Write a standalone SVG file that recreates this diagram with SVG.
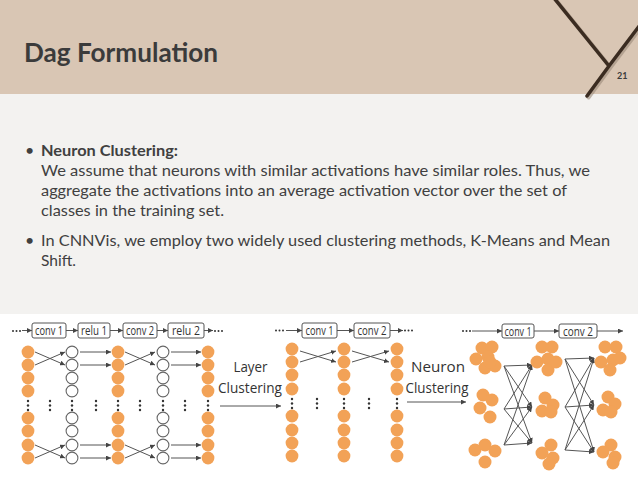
<svg xmlns="http://www.w3.org/2000/svg" xmlns:xlink="http://www.w3.org/1999/xlink" width="638" height="478" viewBox="0 0 638 478">
<style>
.o{fill:#f2a257}
.w{fill:#fff;stroke:#666;stroke-width:1.1}
.dt{fill:#333}
.ln{stroke:#555;stroke-width:1;fill:none}
.box{fill:#fff;stroke:#555;stroke-width:1}
.bt{font-family:"Open Sans","Noto Sans",sans-serif;font-size:12.5px;fill:#333}
.lb{font-family:"Open Sans","Noto Sans",sans-serif;font-size:15px;fill:#333}
.body{font-family:Lato,"Open Sans",sans-serif;font-size:16px;fill:#404040}
</style>
<defs>
<marker id="ah" viewBox="0 0 6 6" markerWidth="5" markerHeight="5" refX="6" refY="3" orient="auto" markerUnits="userSpaceOnUse"><path d="M0,0 L6,3 L0,6 z" fill="#444"/></marker>
<g id="vd"><circle cx="0" cy="0" r="1.2"/><circle cx="0" cy="4.5" r="1.2"/><circle cx="0" cy="9" r="1.2"/></g>
<g id="hd"><circle cx="0" cy="0" r="1"/><circle cx="3.5" cy="0" r="1"/><circle cx="7" cy="0" r="1"/></g>
</defs>

<!-- background -->
<rect x="0" y="0" width="638" height="478" fill="#f3f2f0"/>
<rect x="0" y="0" width="638" height="94" fill="#d9c6b4"/>
<rect x="0" y="314" width="638" height="164" fill="#ffffff"/>

<!-- header decoration -->
<g id="decoration" fill="none" stroke-linecap="round">
<path d="M554,-2 L609,66 L640,25 M609,66 L587,96" stroke="#9b8a7a" stroke-width="4" transform="translate(1.5,1.5)" opacity="0.6"/>
<path d="M554,-2 L609,66 L640,25 M609,66 L587,96" stroke="#3b2c21" stroke-width="3.5"/>
</g>
<text x="24" y="62" font-family="Lato,'Open Sans',sans-serif" font-weight="700" font-size="27" fill="#3b3b3b" textLength="194" lengthAdjust="spacingAndGlyphs">Dag Formulation</text>
<text x="617" y="79" font-family="Lato,'Open Sans',sans-serif" font-weight="700" font-size="9" fill="#3b3b3b">21</text>

<!-- body text -->
<g id="bullets" class="body">
<text x="25" y="156">•</text>
<text x="41" y="156" font-weight="700" textLength="137" lengthAdjust="spacingAndGlyphs">Neuron Clustering:</text>
<text x="41" y="176" textLength="549" lengthAdjust="spacingAndGlyphs">We assume that neurons with similar activations have similar roles. Thus, we</text>
<text x="41" y="196" textLength="526" lengthAdjust="spacingAndGlyphs">aggregate the activations into an average activation vector over the set of</text>
<text x="41" y="216" textLength="183" lengthAdjust="spacingAndGlyphs">classes in the training set.</text>
<text x="25" y="246">•</text>
<text x="41" y="246" textLength="569" lengthAdjust="spacingAndGlyphs">In CNNVis, we employ two widely used clustering methods, K-Means and Mean</text>
<text x="41" y="266" textLength="35" lengthAdjust="spacingAndGlyphs">Shift.</text>
</g>

<!-- connectors -->
<g id="connectors" class="ln">
<!-- left top row -->
<line x1="22" y1="330.5" x2="32" y2="330.5" marker-end="url(#ah)"/>
<line x1="66" y1="330.5" x2="78" y2="330.5" marker-end="url(#ah)"/>
<line x1="110" y1="330.5" x2="123" y2="330.5" marker-end="url(#ah)"/>
<line x1="157" y1="330.5" x2="168" y2="330.5" marker-end="url(#ah)"/>
<line x1="204" y1="330.5" x2="213" y2="330.5" marker-end="url(#ah)"/>
<!-- left crosses 1 -->
<line x1="35" y1="352" x2="65" y2="365" marker-end="url(#ah)"/>
<line x1="35" y1="365" x2="65" y2="352" marker-end="url(#ah)"/>
<line x1="35" y1="445" x2="65" y2="458" marker-end="url(#ah)"/>
<line x1="35" y1="458" x2="65" y2="445" marker-end="url(#ah)"/>
<line x1="80" y1="352" x2="111" y2="352" marker-end="url(#ah)"/>
<line x1="80" y1="365" x2="111" y2="365" marker-end="url(#ah)"/>
<line x1="80" y1="445" x2="111" y2="445" marker-end="url(#ah)"/>
<line x1="80" y1="458" x2="111" y2="458" marker-end="url(#ah)"/>
<!-- left crosses 2 -->
<line x1="125" y1="352" x2="155" y2="365" marker-end="url(#ah)"/>
<line x1="125" y1="365" x2="155" y2="352" marker-end="url(#ah)"/>
<line x1="125" y1="445" x2="155" y2="458" marker-end="url(#ah)"/>
<line x1="125" y1="458" x2="155" y2="445" marker-end="url(#ah)"/>
<line x1="171" y1="352" x2="201" y2="352" marker-end="url(#ah)"/>
<line x1="171" y1="365" x2="201" y2="365" marker-end="url(#ah)"/>
<line x1="171" y1="445" x2="201" y2="445" marker-end="url(#ah)"/>
<line x1="171" y1="458" x2="201" y2="458" marker-end="url(#ah)"/>
<!-- layer clustering arrow -->
<line x1="220" y1="406" x2="281" y2="406" marker-end="url(#ah)"/>
<!-- middle top row -->
<line x1="286" y1="330.5" x2="302" y2="330.5" marker-end="url(#ah)"/>
<line x1="337" y1="330.5" x2="354" y2="330.5" marker-end="url(#ah)"/>
<line x1="390" y1="330.5" x2="403" y2="330.5" marker-end="url(#ah)"/>
<!-- middle crosses -->
<line x1="300" y1="351" x2="336" y2="362" marker-end="url(#ah)"/>
<line x1="300" y1="362" x2="336" y2="351" marker-end="url(#ah)"/>
<line x1="352" y1="351" x2="389" y2="362" marker-end="url(#ah)"/>
<line x1="352" y1="362" x2="389" y2="351" marker-end="url(#ah)"/>
<!-- neuron clustering arrow -->
<line x1="407" y1="402" x2="466" y2="402" marker-end="url(#ah)"/>
<!-- right top row -->
<line x1="472" y1="331" x2="502" y2="331" marker-end="url(#ah)"/>
<line x1="534" y1="331" x2="559" y2="331" marker-end="url(#ah)"/>
<line x1="597" y1="331" x2="623" y2="331" marker-end="url(#ah)"/>
<!-- bipartite set 1 -->
<line x1="504" y1="366" x2="532" y2="365" marker-end="url(#ah)"/>
<line x1="504" y1="366" x2="532" y2="407" marker-end="url(#ah)"/>
<line x1="504" y1="366" x2="532" y2="443" marker-end="url(#ah)"/>
<line x1="504" y1="409" x2="532" y2="365" marker-end="url(#ah)"/>
<line x1="504" y1="409" x2="532" y2="407" marker-end="url(#ah)"/>
<line x1="504" y1="409" x2="532" y2="443" marker-end="url(#ah)"/>
<line x1="504" y1="445" x2="532" y2="365" marker-end="url(#ah)"/>
<line x1="504" y1="445" x2="532" y2="407" marker-end="url(#ah)"/>
<line x1="504" y1="445" x2="532" y2="443" marker-end="url(#ah)"/>
<!-- bipartite set 2 -->
<line x1="565" y1="359" x2="594" y2="358" marker-end="url(#ah)"/>
<line x1="565" y1="359" x2="594" y2="405" marker-end="url(#ah)"/>
<line x1="565" y1="359" x2="594" y2="452" marker-end="url(#ah)"/>
<line x1="565" y1="407" x2="594" y2="358" marker-end="url(#ah)"/>
<line x1="565" y1="407" x2="594" y2="405" marker-end="url(#ah)"/>
<line x1="565" y1="407" x2="594" y2="452" marker-end="url(#ah)"/>
<line x1="565" y1="450" x2="594" y2="358" marker-end="url(#ah)"/>
<line x1="565" y1="450" x2="594" y2="405" marker-end="url(#ah)"/>
<line x1="565" y1="450" x2="594" y2="452" marker-end="url(#ah)"/>
</g>

<!-- ellipsis dots -->
<g id="ellipses" class="dt">
<use xlink:href="#hd" x="13" y="331"/>
<use xlink:href="#hd" x="215" y="331"/>
<use xlink:href="#hd" x="276" y="330.5"/>
<use xlink:href="#hd" x="405" y="330.5"/>
<use xlink:href="#hd" x="463" y="331"/>
</g>

<!-- left section -->
<g id="box-conv1-a"><rect class="box" x="32" y="323" width="34" height="15" rx="2"/><text class="bt" x="49" y="335" text-anchor="middle" textLength="28" lengthAdjust="spacingAndGlyphs">conv 1</text></g>
<g id="box-relu1-a"><rect class="box" x="78" y="323" width="32" height="15" rx="2"/><text class="bt" x="94" y="335" text-anchor="middle" textLength="26" lengthAdjust="spacingAndGlyphs">relu 1</text></g>
<g id="box-conv2-a"><rect class="box" x="123" y="323" width="34" height="15" rx="2"/><text class="bt" x="140" y="335" text-anchor="middle" textLength="28" lengthAdjust="spacingAndGlyphs">conv 2</text></g>
<g id="box-relu2-a"><rect class="box" x="168" y="323" width="36" height="15" rx="2"/><text class="bt" x="186" y="335" text-anchor="middle" textLength="28" lengthAdjust="spacingAndGlyphs">relu 2</text></g>

<g id="col-l1" class="o">
<circle cx="28" cy="352" r="6.4"/><circle cx="28" cy="365" r="6.4"/><circle cx="28" cy="378" r="6.4"/><circle cx="28" cy="391" r="6.4"/>
<circle cx="28" cy="418" r="6.4"/><circle cx="28" cy="431" r="6.4"/><circle cx="28" cy="445" r="6.4"/><circle cx="28" cy="458" r="6.4"/>
</g>
<g id="col-l2" class="w">
<circle cx="72" cy="352" r="5.9"/><circle cx="72" cy="365" r="5.9"/><circle cx="72" cy="378" r="5.9"/><circle cx="72" cy="391" r="5.9"/>
<circle cx="72" cy="418" r="5.9"/><circle cx="72" cy="431" r="5.9"/><circle cx="72" cy="445" r="5.9"/><circle cx="72" cy="458" r="5.9"/>
</g>
<g id="col-l3" class="o">
<circle cx="118" cy="352" r="6.4"/><circle cx="118" cy="365" r="6.4"/><circle cx="118" cy="378" r="6.4"/><circle cx="118" cy="391" r="6.4"/>
<circle cx="118" cy="418" r="6.4"/><circle cx="118" cy="431" r="6.4"/><circle cx="118" cy="445" r="6.4"/><circle cx="118" cy="458" r="6.4"/>
</g>
<g id="col-l4" class="w">
<circle cx="163" cy="352" r="5.9"/><circle cx="163" cy="365" r="5.9"/><circle cx="163" cy="378" r="5.9"/><circle cx="163" cy="391" r="5.9"/>
<circle cx="163" cy="418" r="5.9"/><circle cx="163" cy="431" r="5.9"/><circle cx="163" cy="445" r="5.9"/><circle cx="163" cy="458" r="5.9"/>
</g>
<g id="col-l5" class="o">
<circle cx="208" cy="352" r="6.4"/><circle cx="208" cy="365" r="6.4"/><circle cx="208" cy="378" r="6.4"/><circle cx="208" cy="391" r="6.4"/>
<circle cx="208" cy="418" r="6.4"/><circle cx="208" cy="431" r="6.4"/><circle cx="208" cy="445" r="6.4"/><circle cx="208" cy="458" r="6.4"/>
</g>
<g id="dots-left" class="dt">
<use xlink:href="#vd" x="28" y="401"/><use xlink:href="#vd" x="50" y="401"/><use xlink:href="#vd" x="72" y="401"/><use xlink:href="#vd" x="96" y="401"/><use xlink:href="#vd" x="118" y="401"/><use xlink:href="#vd" x="140" y="401"/><use xlink:href="#vd" x="163" y="401"/><use xlink:href="#vd" x="185" y="401"/><use xlink:href="#vd" x="208" y="401"/>
</g>

<!-- layer clustering label -->
<g id="label-layer" class="lb" text-anchor="middle">
<text x="250.5" y="372" textLength="34" lengthAdjust="spacingAndGlyphs">Layer</text>
<text x="250" y="393" textLength="64" lengthAdjust="spacingAndGlyphs">Clustering</text>
</g>

<!-- middle section -->
<g id="box-conv1-b"><rect class="box" x="302" y="323" width="35" height="15" rx="2"/><text class="bt" x="319.5" y="335" text-anchor="middle" textLength="28" lengthAdjust="spacingAndGlyphs">conv 1</text></g>
<g id="box-conv2-b"><rect class="box" x="354" y="323" width="36" height="15" rx="2"/><text class="bt" x="372" y="335" text-anchor="middle" textLength="29" lengthAdjust="spacingAndGlyphs">conv 2</text></g>
<g id="col-m1" class="o">
<circle cx="292" cy="349" r="6.4"/><circle cx="292" cy="362" r="6.4"/><circle cx="292" cy="375" r="6.4"/><circle cx="292" cy="389" r="6.4"/>
<circle cx="292" cy="416" r="6.4"/><circle cx="292" cy="430" r="6.4"/><circle cx="292" cy="443" r="6.4"/><circle cx="292" cy="456" r="6.4"/>
</g>
<g id="col-m2" class="o">
<circle cx="344" cy="349" r="6.4"/><circle cx="344" cy="362" r="6.4"/><circle cx="344" cy="375" r="6.4"/><circle cx="344" cy="389" r="6.4"/>
<circle cx="344" cy="416" r="6.4"/><circle cx="344" cy="430" r="6.4"/><circle cx="344" cy="443" r="6.4"/><circle cx="344" cy="456" r="6.4"/>
</g>
<g id="col-m3" class="o">
<circle cx="397" cy="349" r="6.4"/><circle cx="397" cy="362" r="6.4"/><circle cx="397" cy="375" r="6.4"/><circle cx="397" cy="389" r="6.4"/>
<circle cx="397" cy="416" r="6.4"/><circle cx="397" cy="430" r="6.4"/><circle cx="397" cy="443" r="6.4"/><circle cx="397" cy="456" r="6.4"/>
</g>
<g id="dots-middle" class="dt">
<use xlink:href="#vd" x="292" y="399"/><use xlink:href="#vd" x="317" y="399"/><use xlink:href="#vd" x="344" y="399"/><use xlink:href="#vd" x="369" y="399"/><use xlink:href="#vd" x="397" y="399"/>
</g>

<!-- neuron clustering label -->
<g id="label-neuron" class="lb" text-anchor="middle">
<text x="438" y="372" textLength="54" lengthAdjust="spacingAndGlyphs">Neuron</text>
<text x="437" y="393" textLength="63" lengthAdjust="spacingAndGlyphs">Clustering</text>
</g>

<!-- right section -->
<g id="box-conv1-c"><rect class="box" x="502" y="324" width="32" height="14" rx="2"/><text class="bt" x="518" y="335.5" text-anchor="middle" textLength="27" lengthAdjust="spacingAndGlyphs">conv 1</text></g>
<g id="box-conv2-c"><rect class="box" x="559" y="324" width="38" height="14" rx="2"/><text class="bt" x="578" y="335.5" text-anchor="middle" textLength="30" lengthAdjust="spacingAndGlyphs">conv 2</text></g>

<g id="cluster-1a" class="o"><circle cx="482" cy="348" r="6.5"/><circle cx="492" cy="347" r="6.5"/><circle cx="476" cy="359" r="6.5"/><circle cx="488" cy="357" r="6.5"/><circle cx="485" cy="368" r="6.5"/><circle cx="495" cy="366" r="6.5"/><circle cx="490" cy="362" r="6.5"/></g>
<g id="cluster-1b" class="o"><circle cx="483" cy="395" r="6.5"/><circle cx="492" cy="400" r="6.5"/><circle cx="480" cy="408" r="6.5"/><circle cx="490" cy="417" r="6.5"/></g>
<g id="cluster-1c" class="o"><circle cx="475" cy="450" r="6.5"/><circle cx="485" cy="445" r="6.5"/><circle cx="495" cy="451" r="6.5"/><circle cx="485" cy="462" r="6.5"/></g>
<g id="cluster-2a" class="o"><circle cx="542" cy="347" r="6.5"/><circle cx="552" cy="347" r="6.5"/><circle cx="537" cy="362" r="6.5"/><circle cx="548" cy="359" r="6.5"/><circle cx="548" cy="370" r="6.5"/><circle cx="556" cy="362" r="6.5"/></g>
<g id="cluster-2b" class="o"><circle cx="545" cy="398" r="6.5"/><circle cx="553" cy="405" r="6.5"/><circle cx="542" cy="411" r="6.5"/><circle cx="551" cy="412" r="6.5"/></g>
<g id="cluster-2c" class="o"><circle cx="551" cy="445" r="6.5"/><circle cx="542" cy="453" r="6.5"/><circle cx="553" cy="458" r="6.5"/><circle cx="549" cy="464" r="6.5"/></g>
<g id="cluster-3a" class="o"><circle cx="605" cy="347" r="6.5"/><circle cx="616" cy="347" r="6.5"/><circle cx="601" cy="362" r="6.5"/><circle cx="613" cy="360" r="6.5"/><circle cx="610" cy="370" r="6.5"/><circle cx="620" cy="358" r="6.5"/></g>
<g id="cluster-3b" class="o"><circle cx="608" cy="397" r="6.5"/><circle cx="615" cy="404" r="6.5"/><circle cx="603" cy="410" r="6.5"/><circle cx="611" cy="412" r="6.5"/></g>
<g id="cluster-3c" class="o"><circle cx="611" cy="445" r="6.5"/><circle cx="603" cy="452" r="6.5"/><circle cx="615" cy="457" r="6.5"/><circle cx="613" cy="463" r="6.5"/></g>
</svg>
